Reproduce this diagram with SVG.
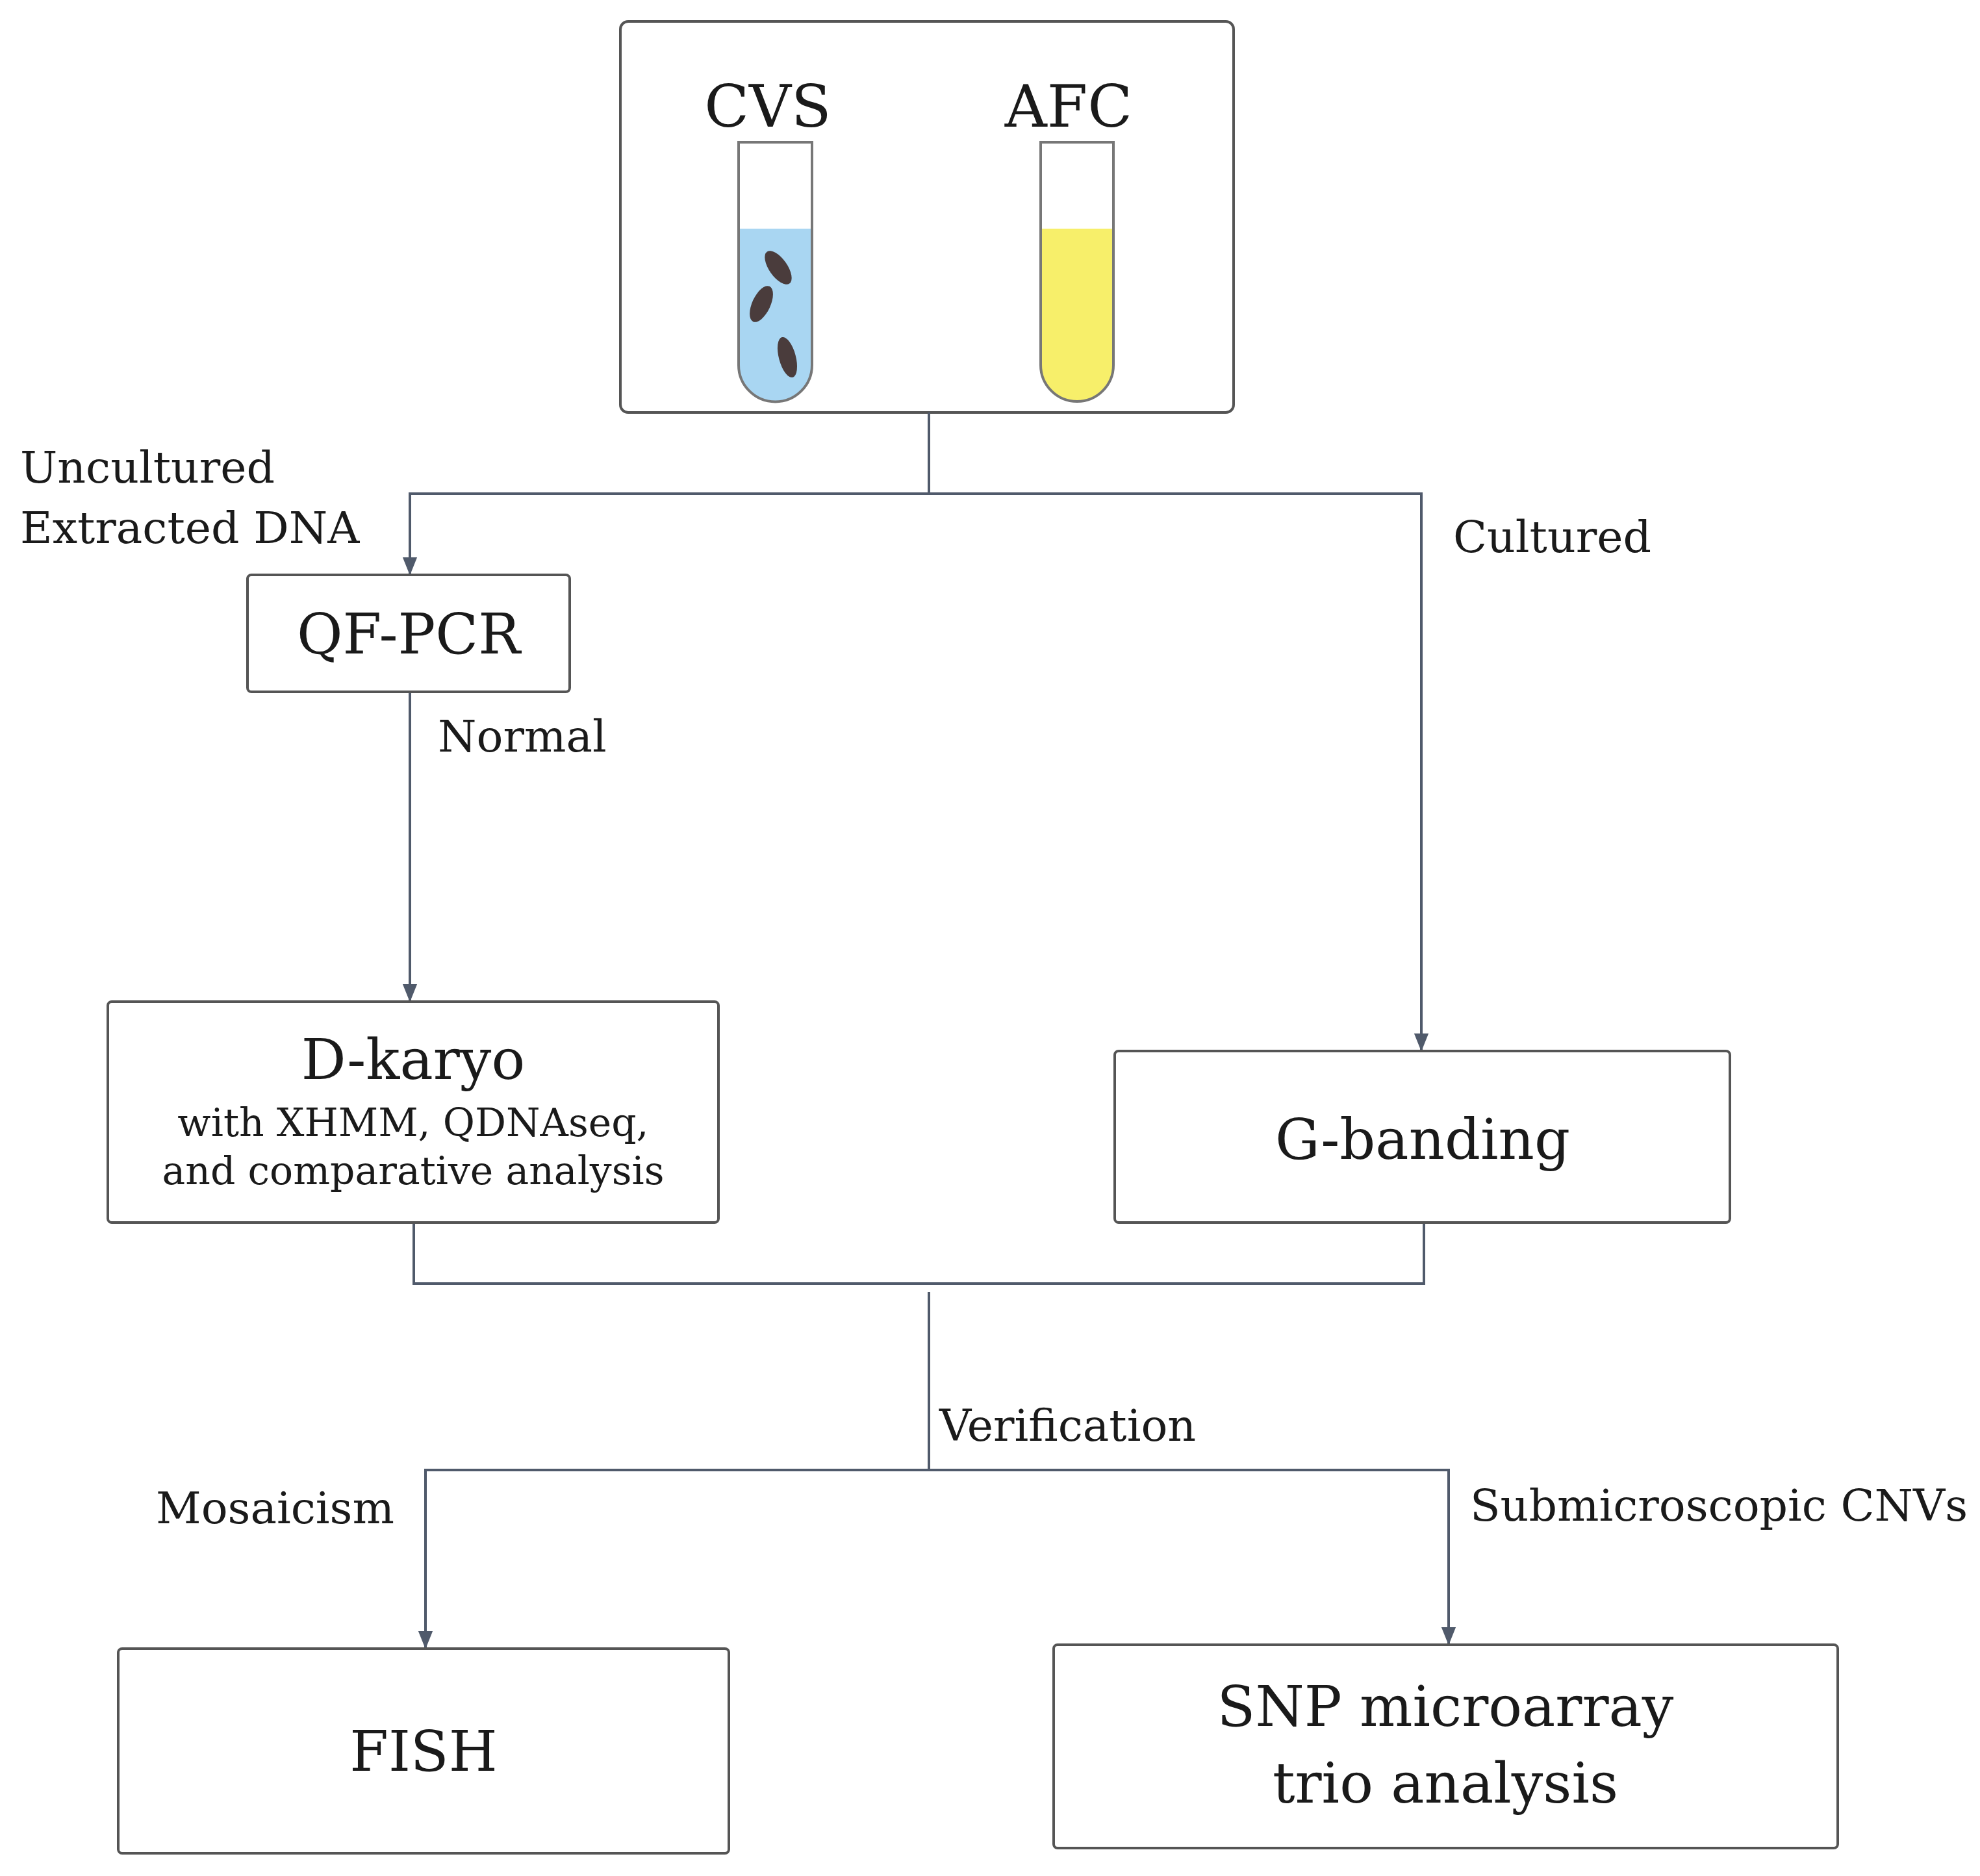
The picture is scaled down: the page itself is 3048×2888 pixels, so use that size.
<svg xmlns="http://www.w3.org/2000/svg" width="3048" height="2888" viewBox="0 0 3048 2888">
<defs>
<style>
.box{fill:#fff;stroke:#555;stroke-width:4}
.ln{fill:none;stroke:#505a6b;stroke-width:4}
.t{font-family:"DejaVu Serif",serif;fill:#1a1a1a;text-anchor:middle}
.l{font-family:"DejaVu Serif",serif;fill:#1a1a1a;font-size:68px}
</style>
<marker id="ah" viewBox="0 0 10 10" refX="9" refY="5" markerWidth="28" markerHeight="28" markerUnits="userSpaceOnUse" orient="auto"><path d="M0,1L10,5L0,9z" fill="#505a6b"/></marker>
</defs>
<rect width="3048" height="2888" fill="#fff"/>
<g id="samples">
<rect class="box" x="955" y="33" width="944" height="602" rx="12"/>
<text class="t" x="1182" y="195" font-size="90">CVS</text>
<text class="t" x="1645" y="195" font-size="90">AFC</text>
<path d="M1137,352V562a56,56 0 0 0 113,0V352z" fill="#a9d6f2"/>
<path d="M1137,219V562a56,56 0 0 0 113,0V219z" fill="none" stroke="#777" stroke-width="4"/>
<g fill="#4a3c3c">
<ellipse cx="1198" cy="412" rx="14" ry="30" transform="rotate(-35 1198 412)"/>
<ellipse cx="1172" cy="468" rx="14" ry="30" transform="rotate(25 1172 468)"/>
<ellipse cx="1212" cy="550" rx="13" ry="32" transform="rotate(-15 1212 550)"/>
</g>
<path d="M1602,352V562a56,56 0 0 0 112,0V352z" fill="#f7ef6a"/>
<path d="M1602,219V562a56,56 0 0 0 112,0V219z" fill="none" stroke="#777" stroke-width="4"/>
</g>
<g id="connectors">
<path class="ln" d="M1430,635V760"/>
<path class="ln" d="M1430,760H631V883" marker-end="url(#ah)"/>
<path class="ln" d="M1430,760H2188V1616" marker-end="url(#ah)"/>
<path class="ln" d="M631,1065V1540" marker-end="url(#ah)"/>
<path class="ln" d="M637,1882V1976H2192V1882"/>
<path class="ln" d="M1430,1989V2263"/>
<path class="ln" d="M1430,2263H655V2536" marker-end="url(#ah)"/>
<path class="ln" d="M1430,2263H2230V2530" marker-end="url(#ah)"/>
</g>
<g id="labels">
<text class="l" x="31" y="743">Uncultured</text>
<text class="l" x="31" y="836">Extracted DNA</text>
<text class="l" x="2237" y="850">Cultured</text>
<text class="l" x="674" y="1157">Normal</text>
<text class="l" x="1446" y="2218">Verification</text>
<text class="l" x="240" y="2345">Mosaicism</text>
<text class="l" x="2263" y="2341">Submicroscopic CNVs</text>
</g>
<g id="qfpcr">
<rect class="box" x="381" y="885" width="496" height="180" rx="6"/>
<text class="t" x="629" y="1006" font-size="86">QF-PCR</text>
</g>
<g id="dkaryo">
<rect class="box" x="166" y="1542" width="940" height="340" rx="6"/>
<text class="t" x="636" y="1661" font-size="86">D-karyo</text>
<text class="t" x="636" y="1749" font-size="60">with XHMM, QDNAseq,</text>
<text class="t" x="636" y="1823" font-size="60">and comparative analysis</text>
</g>
<g id="gbanding">
<rect class="box" x="1716" y="1618" width="947" height="264" rx="6"/>
<text class="t" x="2190" y="1784" font-size="86">G-banding</text>
</g>
<g id="fish">
<rect class="box" x="182" y="2538" width="940" height="315" rx="6"/>
<text class="t" x="652" y="2726" font-size="86">FISH</text>
</g>
<g id="snp">
<rect class="box" x="1622" y="2532" width="1207" height="313" rx="6"/>
<text class="t" x="2225" y="2657" font-size="86">SNP microarray</text>
<text class="t" x="2225" y="2775" font-size="86">trio analysis</text>
</g>
</svg>
